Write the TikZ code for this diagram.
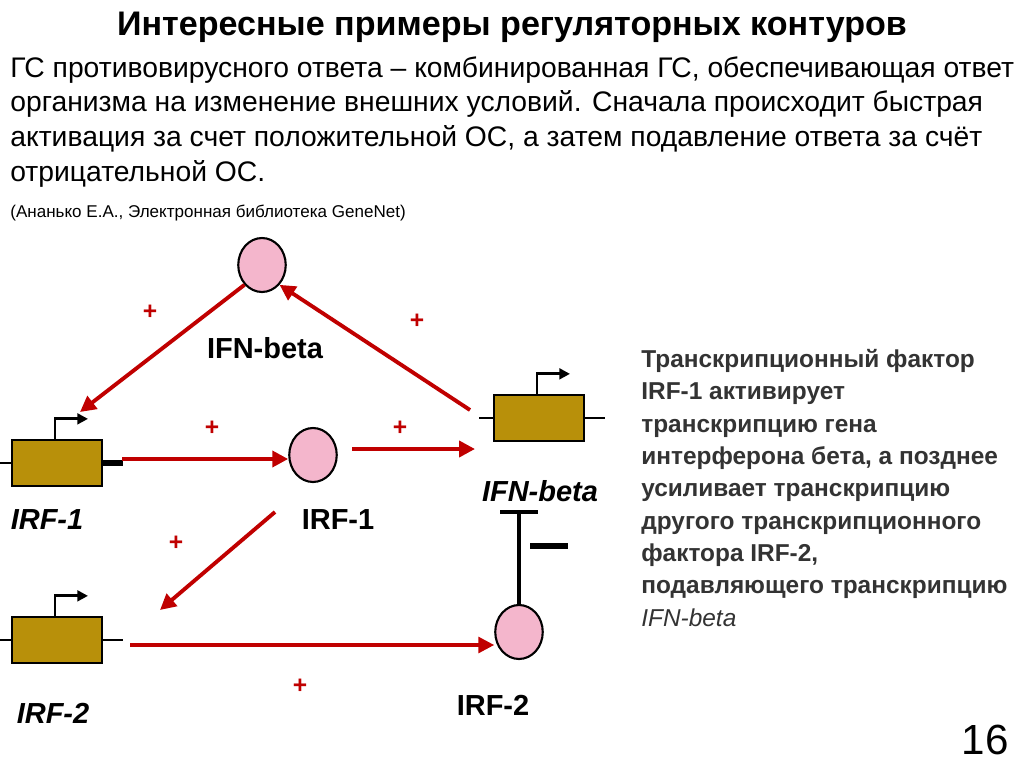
\documentclass[tikz,border=0pt]{standalone}
\usepackage{fontspec}
\setmainfont{Liberation Sans}
\usetikzlibrary{shapes.geometric,arrows.meta}
\definecolor{arrred}{HTML}{C00000}
\definecolor{genegold}{HTML}{B8900A}
\definecolor{protpink}{HTML}{F4B6CC}
\tikzset{
  gene/.style={draw,line width=1.3pt,fill=genegold,minimum width=1.8cm,minimum height=0.92cm,inner sep=0pt},
  prot/.style={ellipse,draw,line width=1.2pt,fill=protpink,minimum width=0.95cm,minimum height=1.08cm,inner sep=0pt},
  act/.style={draw=arrred,line width=2.2pt,-{Triangle[length=9pt,width=9pt]}},
  plus/.style={text=arrred,font=\fontsize{14}{14}\selectfont\bfseries},
  lbl/.style={font=\fontsize{16.5}{16.5}\selectfont\bfseries},
  glbl/.style={font=\fontsize{16.5}{16.5}\selectfont\bfseries\itshape},
}
\begin{document}
\begin{tikzpicture}[x=0.02cm,y=-0.02cm]
  \useasboundingbox (0,0) rectangle (1024,767);
  \node[font=\fontsize{19.4}{20}\selectfont\bfseries] (title) at (512,27) {Интересные примеры регуляторных контуров};
  \node[anchor=north west,align=left,inner sep=0pt,font=\fontsize{16.1}{19.8}\selectfont] (intro) at (10,56)
    {ГС противовирусного ответа -- комбинированная ГС, обеспечивающая ответ\\
     организма на изменение внешних условий. Сначала происходит быстрая\\
     активация за счет положительной ОС, а затем подавление ответа за счёт\\
     отрицательной ОС.};
  \node[anchor=west,inner sep=0pt,font=\fontsize{9.7}{9.7}\selectfont] (cite) at (10,213)
    {(Ананько Е.А., Электронная библиотека GeneNet)};
  % genes
  \node[gene] (girf1) at (57,463) {};
  \node[gene] (gifn) at (539,418) {};
  \node[gene] (girf2) at (57,640) {};
  \foreach \g in {girf1,gifn,girf2}{
    \draw[line width=1.3pt] (\g.west) -- ++(-14,0);
    \draw[line width=1.3pt] (\g.east) -- ++(20,0);
    \draw[line width=1.6pt,-{Triangle[length=6pt,width=6pt]}] (\g.north) ++(-2,0) -- ++(0,-20) -- ++(33,0);
  }
  \draw[line width=3pt] (girf1.east) -- ++(20,0);
  % proteins
  \node[prot] (pifn) at (262,265) {};
  \node[prot] (pirf1) at (313,455) {};
  \node[prot] (pirf2) at (519,632) {};
  % labels
  \node[lbl] (lpifn) at (265,348) {IFN-beta};
  \node[lbl] (lpirf1) at (338,520) {IRF-1};
  \node[lbl] (lpirf2) at (493,705) {IRF-2};
  \node[glbl] (lgirf1) at (47,520) {IRF-1};
  \node[glbl] (lgifn) at (540,491) {IFN-beta};
  \node[glbl] (lgirf2) at (53,713) {IRF-2};
  % connectors
  \coordinate (ifnin) at (470,410);
  \coordinate (irf1top) at (80,412);
  \draw[act] (ifnin) -- (pifn.south east);
  \draw[act] (pifn.south west) -- (irf1top);
  \draw[act] (122,459) -- (pirf1.west |- 0,459);
  \draw[act] (352,449) -- (475,449);
  \draw[act] (275,512) -- (160,610);
  \draw[act,line width=1.8pt] (130,645) -- (pirf2.west |- 0,645);
  \draw[line width=2.5pt] (pirf2.north) -- (519,512) coordinate (bar);
  \draw[line width=2.5pt] ([xshift=-19*0.02cm]bar) -- ([xshift=19*0.02cm]bar);
  \node (minus) at (549,546) {\rule{0.76cm}{0.13cm}};
  \node[plus] (p1) at (150,312) {+};
  \node[plus] (p2) at (417,321) {+};
  \node[plus] (p3) at (212,428) {+};
  \node[plus] (p4) at (400,428) {+};
  \node[plus] (p5) at (176,543) {+};
  \node[plus] (p6) at (300,686) {+};
  % explanation
  \node[anchor=north west,align=left,inner sep=0pt,text=black!80,font=\fontsize{13.9}{18.4}\selectfont\bfseries] (expl) at (641,349)
    {Транскрипционный фактор\\
     IRF-1 активирует\\
     транскрипцию гена\\
     интерферона бета, а позднее\\
     усиливает транскрипцию\\
     другого транскрипционного\\
     фактора IRF-2,\\
     подавляющего транскрипцию\\
     \mdseries\itshape IFN-beta};
  \node[font=\fontsize{24}{24}\selectfont] (page) at (985,740) {16};
\end{tikzpicture}
\end{document}
